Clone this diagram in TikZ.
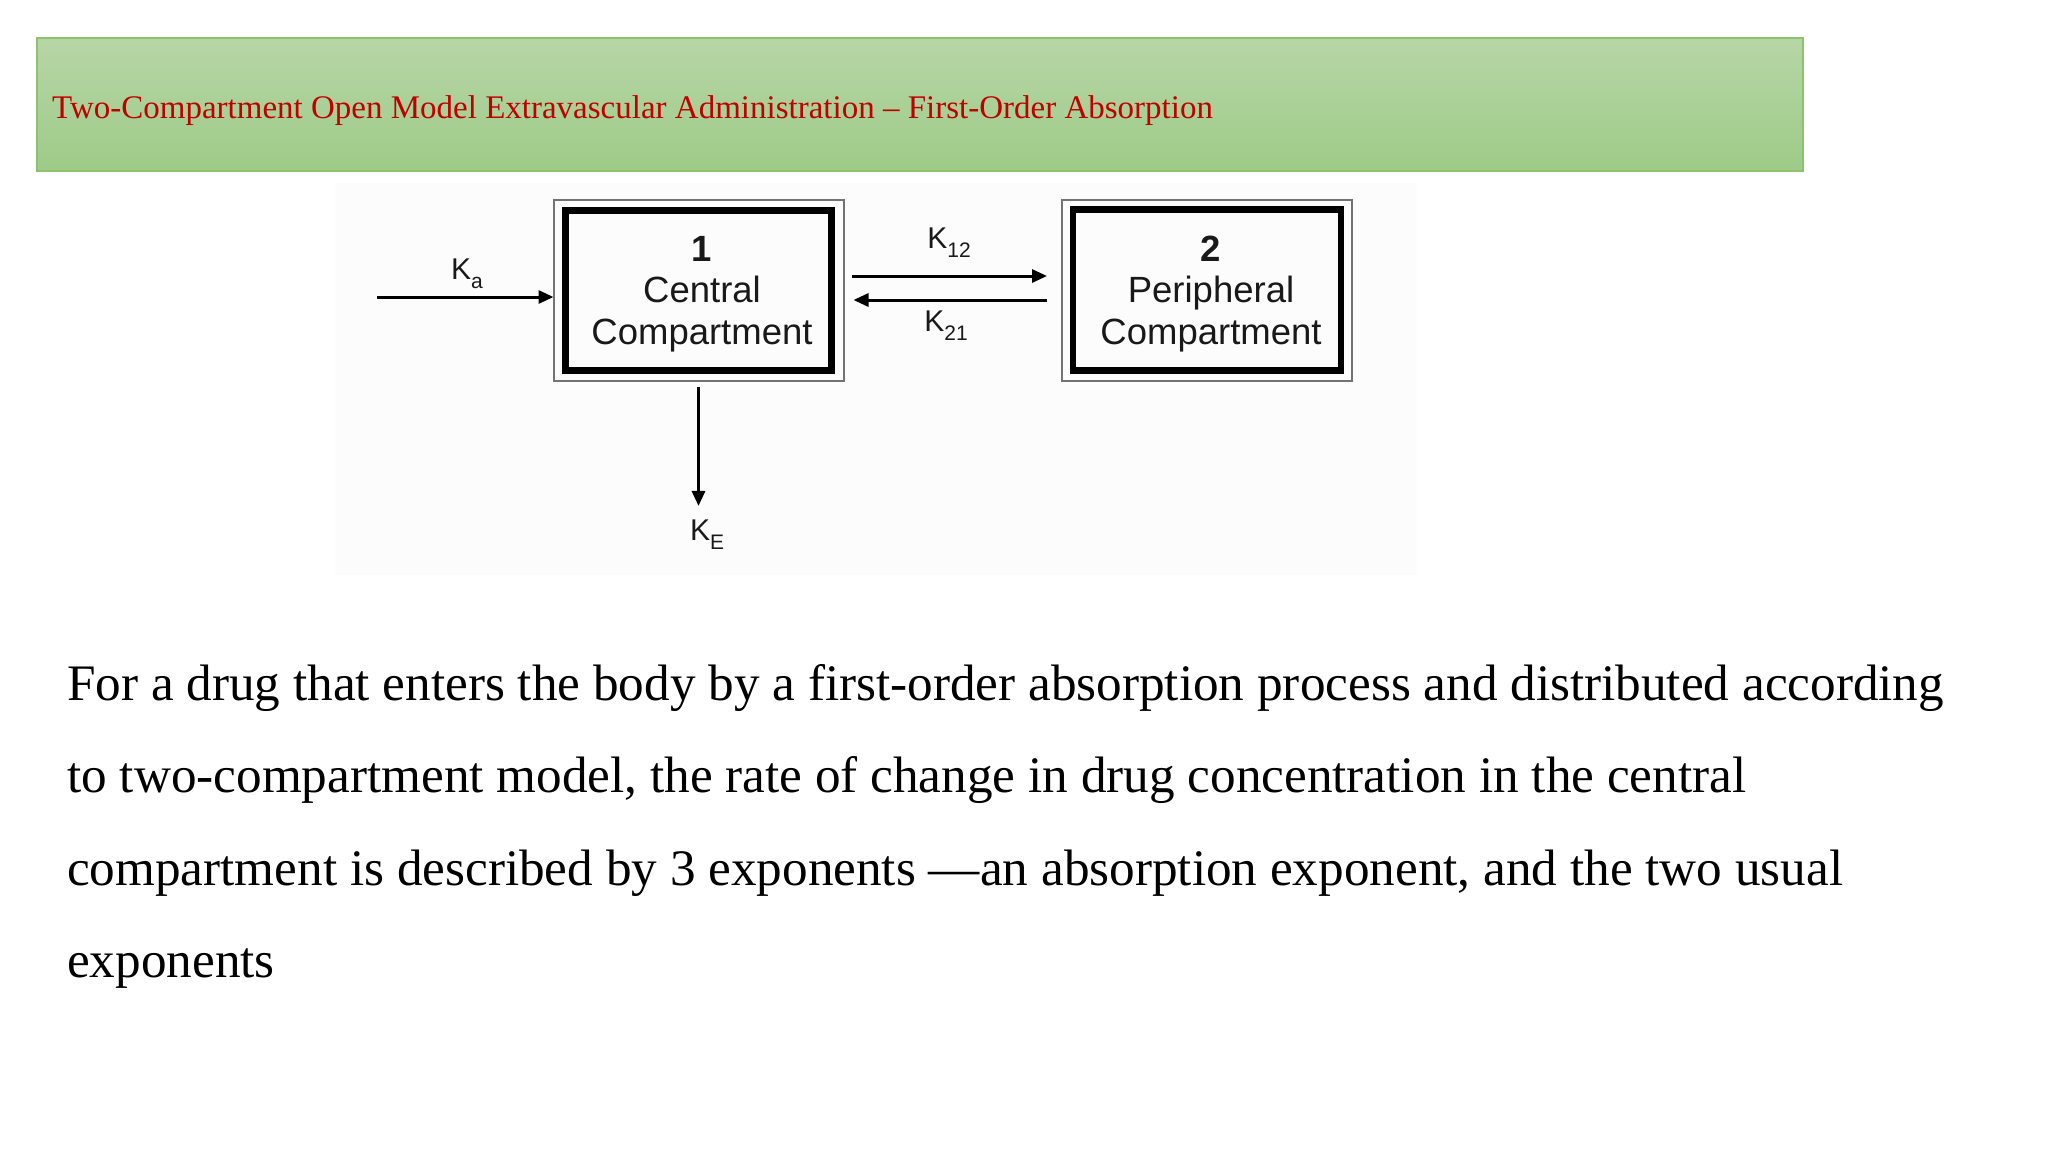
\documentclass[tikz,border=0pt]{standalone}
\usepackage{fontspec}
\setmainfont{Liberation Serif}
\setsansfont{Liberation Sans}
\usetikzlibrary{arrows.meta}
\definecolor{titlered}{RGB}{192,0,0}
\definecolor{bartop}{RGB}{183,214,166}
\definecolor{barbot}{RGB}{158,203,136}
\definecolor{barline}{RGB}{141,194,111}
\definecolor{diagtext}{RGB}{25,25,25}
\tikzset{
  titlebar/.style={draw=barline, line width=2pt, top color=bartop, bottom color=barbot,
    minimum width=1766pt, minimum height=133pt, inner sep=0pt, outer sep=0pt},
  titletext/.style={anchor=base west, inner sep=0pt, text=titlered,
    font=\fontsize{33pt}{38pt}\selectfont},
  compbox/.style={draw=black!55, line width=2pt, minimum width=290pt, minimum height=181pt,
    inner sep=0pt, outer sep=0pt, align=center, text=diagtext,
    font=\sffamily\fontsize{36.5pt}{41.5pt}\selectfont},
  klabel/.style={inner sep=0pt, text=diagtext, font=\sffamily\fontsize{30pt}{34pt}\selectfont},
  arr/.style={line width=3pt, -{Triangle[length=15pt,width=13pt]}},
  bodyline/.style={anchor=base west, inner sep=0pt, font=\fontsize{51.2pt}{60pt}\selectfont}
}
\newcommand{\ksub}[1]{{\fontsize{21pt}{24pt}\selectfont #1}}
\begin{document}
\begin{tikzpicture}[x=1pt,y=-1pt]
\useasboundingbox (0,0) rectangle (2048,1152);
\fill[white] (0,0) rectangle (2048,1152);
% title bar
\node[titlebar] (bar) at (920,104.5) {};
\node[titletext] (title) at (52,118) {Two-Compartment Open Model Extravascular Administration -- First-Order Absorption};
% faint diagram background
\fill[black!1] (335,183) rectangle (1417,575);
% boxes
\node[compbox] (c) at (698.5,290) {};
\node[text=diagtext, align=center, font=\sffamily\fontsize{36.5pt}{41.5pt}\selectfont, inner sep=0pt] (ctext) at (702,294) {{\bfseries 1}\\Central\\Compartment};
\draw[line width=6.5pt] ([shift={(12,11)}]c.north west) rectangle ([shift={(-12,-10)}]c.south east);
\node[compbox] (p) at (1207,290) {};
\node[text=diagtext, align=center, font=\sffamily\fontsize{36.5pt}{41.5pt}\selectfont, inner sep=0pt] (ptext) at (1211,294) {{\bfseries 2}\\Peripheral\\Compartment};
\draw[line width=6.5pt] ([shift={(11,10)}]p.north west) rectangle ([shift={(-11,-10)}]p.south east);
% labels
\node[klabel] (ka) at (467,274) {K\raisebox{-9pt}{\ksub{a}}};
\node[klabel] (k12) at (949,243) {K\raisebox{-9pt}{\ksub{12}}};
\node[klabel] (k21) at (946,326) {K\raisebox{-9pt}{\ksub{21}}};
\node[klabel] (ke) at (707,535) {K\raisebox{-9pt}{\ksub{E}}};
% connectors
\coordinate (kastart) at (377,297);
\draw[arr] (kastart) -- (c.west |- kastart);
\draw[arr, shorten <=8pt, shorten >=15pt] (c.east |- 0,276) -- (p.west |- 0,276);
\draw[arr, shorten <=15pt, shorten >=10pt] (p.west |- 0,300) -- (c.east |- 0,300);
\draw[arr, shorten <=6pt, shorten >=14pt] (c.south) -- (c.south |- ke.north);
% body text
\node[bodyline] (l1) at (67,700) {For a drug that enters the body by a first-order absorption process and distributed according};
\node[bodyline] (l2) at (67,792) {to two-compartment model, the rate of change in drug concentration in the central};
\node[bodyline] (l3) at (67,885) {compartment is described by 3 exponents ---an absorption exponent, and the two usual};
\node[bodyline] (l4) at (67,977) {exponents};
\end{tikzpicture}
\end{document}
